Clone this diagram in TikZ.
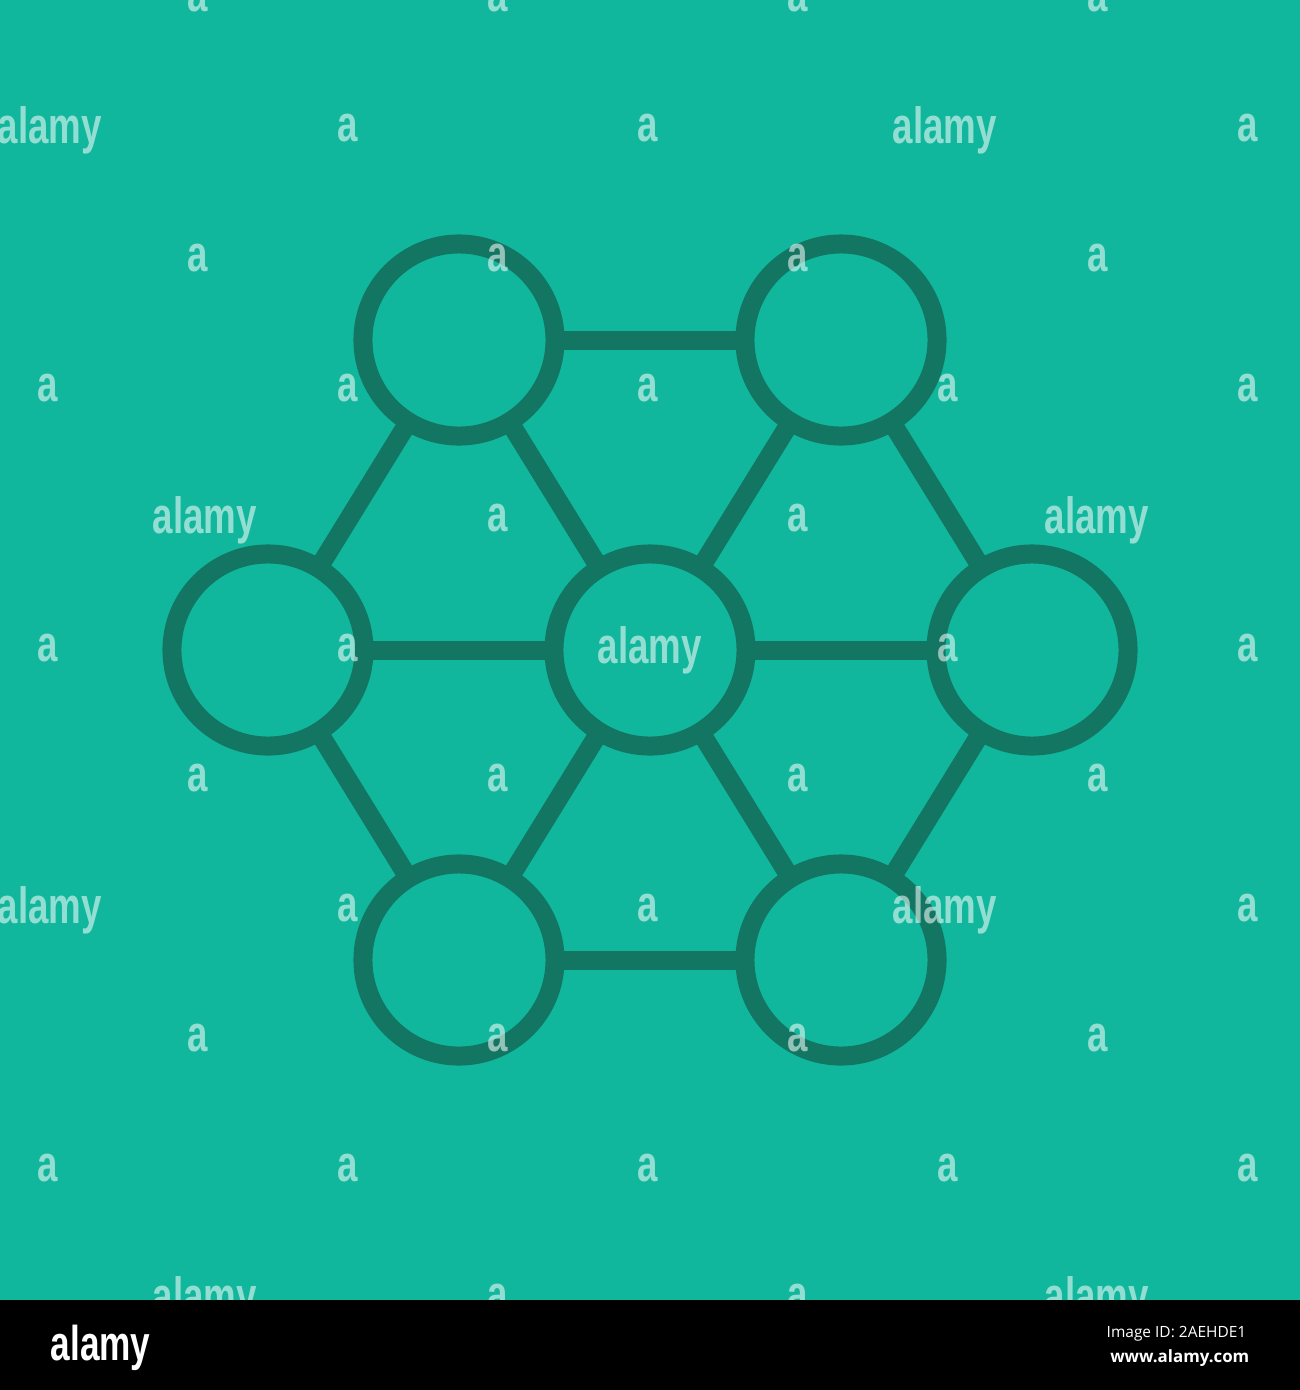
\documentclass[tikz,border=0pt]{standalone}
\usepackage{fontspec}
\setmainfont{Liberation Sans}
\newfontfamily\idfont{Open Sans}
\definecolor{bggreen}{HTML}{11B79C}
\definecolor{linegreen}{HTML}{137663}
\newcommand{\narrow}[1]{\scalebox{0.72}[1]{#1}}
\tikzset{
	atom/.style={circle, draw=linegreen, line width=0.19cm, minimum size=1.92cm, inner sep=0pt, outer sep=0pt},
	bond/.style={draw=linegreen, line width=0.19cm},
	wmark/.style={text=white, text opacity=0.55, font=\fontsize{14.5}{14.5}\selectfont\bfseries, anchor=base, inner sep=0pt}
}

\begin{document}
\begin{tikzpicture}[x=0.01cm, y=-0.01cm]
			%%%%% START %%%%%
			
			\useasboundingbox (0, 0) rectangle (1300, 1390);
			\fill[bggreen] (0, 0) rectangle (1300, 1300);
			
			\node[atom] (nw) at (459, 340) {};
			\node[atom] (ne) at (841, 340) {};
			\node[atom] (w) at (268, 650) {};
			\node[atom] (hub) at (650, 650) {};
			\node[atom] (e) at (1032, 650) {};
			\node[atom] (sw) at (459, 960) {};
			\node[atom] (se) at (841, 960) {};
			
			\draw[bond] (nw) -- (ne);
			\draw[bond] (sw) -- (se);
			\draw[bond] (w) -- (hub);
			\draw[bond] (hub) -- (e);
			\draw[bond] (nw) -- (w);
			\draw[bond] (nw) -- (hub);
			\draw[bond] (ne) -- (hub);
			\draw[bond] (ne) -- (e);
			\draw[bond] (w) -- (sw);
			\draw[bond] (hub) -- (sw);
			\draw[bond] (hub) -- (se);
			\draw[bond] (e) -- (se);
			
			% watermark
			\foreach \y in {-2, 258, 778, 1038}
				\foreach \x in {198, 498, 798, 1098}
					\node[wmark] at (\x, \y+13) {\narrow{a}};
			\foreach \y in {518, 1298}
				\foreach \x in {498, 798}
					\node[wmark] at (\x, \y+13) {\narrow{a}};
			\foreach \y in {388, 1168}
				\foreach \x in {48, 348, 648, 948, 1248}
					\node[wmark] at (\x, \y+13) {\narrow{a}};
			\foreach \x/\y in {348/128, 648/128, 1248/128, 348/908, 648/908, 1248/908, 48/648, 348/648, 948/648, 1248/648}
				\node[wmark] at (\x, \y+13) {\narrow{a}};
			\foreach \x/\y in {50/128, 945/128, 205/518, 1097/518, 650/648, 50/908, 945/908, 205/1298, 1097/1298}
				\node[wmark] at (\x, \y+15) {\narrow{alamy}};
			
			\fill[black] (0, 1300) rectangle (1300, 1390);
			\node[anchor=base west, inner sep=0pt, text=white, font=\fontsize{13.9}{13.9}\selectfont\bfseries] (logo) at (50, 1360) {\narrow{alamy}};
			\node[anchor=base east, inner sep=0pt, text=white, font=\idfont\fontsize{4.4}{4.4}\selectfont] (imageid) at (1247, 1337) {Image ID: 2AEHDE1};
			\node[anchor=base east, inner sep=0pt, text=white, font=\idfont\bfseries\fontsize{4.8}{4.8}\selectfont] (site) at (1250, 1362) {www.alamy.com};
			
			%%%%% END %%%%%
\end{tikzpicture}
\end{document}
